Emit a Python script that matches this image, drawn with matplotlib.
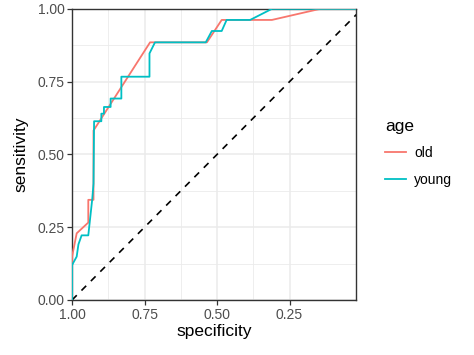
import matplotlib
matplotlib.use("Agg")
import matplotlib.pyplot as plt
from matplotlib.ticker import FixedLocator

# ROC curve points
old_spec = [1.0, 1.0, 0.984, 0.944, 0.944, 0.926, 0.926, 0.731, 0.535,
            0.484, 0.311, 0.145, 0.0]
old_sens = [0.0, 0.149, 0.229, 0.266, 0.344, 0.344, 0.582, 0.885, 0.885,
            0.962, 0.962, 1.0, 1.0]

young_spec = [1.0, 1.0, 0.984, 0.978, 0.967, 0.944, 0.930, 0.926, 0.924,
              0.899, 0.899, 0.890, 0.890, 0.867, 0.867, 0.830, 0.830,
              0.733, 0.733, 0.714, 0.539, 0.518, 0.484, 0.467, 0.386,
              0.311, 0.0]
young_sens = [0.0, 0.12, 0.149, 0.191, 0.222, 0.222, 0.35, 0.40, 0.614,
              0.614, 0.640, 0.640, 0.663, 0.663, 0.692, 0.692, 0.767,
              0.767, 0.847, 0.885, 0.885, 0.924, 0.924, 0.962, 0.962,
              1.0, 1.0]

groups = ["old", "young"]
colors = {"old": "#F8766D", "young": "#00BFC4"}
x_ticks = [1.00, 0.75, 0.50, 0.25]
y_ticks = [0.00, 0.25, 0.50, 0.75, 1.00]

plt.rcParams["font.family"] = ["Liberation Sans", "DejaVu Sans"]

fig = plt.figure(figsize=(4.74, 3.55), dpi=100)
ax = fig.add_axes([0.152, 0.155, 0.599, 0.820])

# sfondo stile theme_bw
ax.set_facecolor("white")
for v in [0.875, 0.625, 0.375]:
    ax.axvline(v, color="#EBEBEB", lw=0.6, zorder=0)
for v in [0.125, 0.375, 0.625, 0.875]:
    ax.axhline(v, color="#EBEBEB", lw=0.6, zorder=0)
for v in x_ticks:
    ax.axvline(v, color="#EBEBEB", lw=1.1, zorder=0)
for v in y_ticks:
    ax.axhline(v, color="#EBEBEB", lw=1.1, zorder=0)

# diagonale di riferimento
ax.plot([1.0, 0.0], [0.0, 1.0], color="black", lw=1.2, ls=(0, (4, 4)), zorder=2)

ax.plot(old_spec, old_sens, color=colors["old"], lw=1.3, label="old", zorder=3)
ax.plot(young_spec, young_sens, color=colors["young"], lw=1.3, label="young", zorder=3)

ax.set_xlim(1.0, 0.021)
ax.set_ylim(0.0, 1.0)
ax.xaxis.set_major_locator(FixedLocator(x_ticks))
ax.yaxis.set_major_locator(FixedLocator(y_ticks))
ax.set_xticklabels([f"{v:.2f}" for v in x_ticks])
ax.set_yticklabels([f"{v:.2f}" for v in y_ticks])
ax.tick_params(colors="#333333", labelcolor="#4D4D4D", labelsize=10,
               length=3.5, width=0.9, pad=2)
for s in ax.spines.values():
    s.set_color("#333333")
    s.set_linewidth(1.0)

ax.set_xlabel("specificity", fontsize=12.5, labelpad=2)
ax.set_ylabel("sensitivity", fontsize=12.5, labelpad=6)

leg = ax.legend(title="age", loc="center left", bbox_to_anchor=(0.786, 0.57),
                bbox_transform=fig.transFigure, frameon=False, fontsize=10,
                title_fontsize=12.5, handlelength=1.5, handletextpad=0.6,
                labelspacing=0.9, alignment="left")

fig.savefig("out.png", dpi=100)
